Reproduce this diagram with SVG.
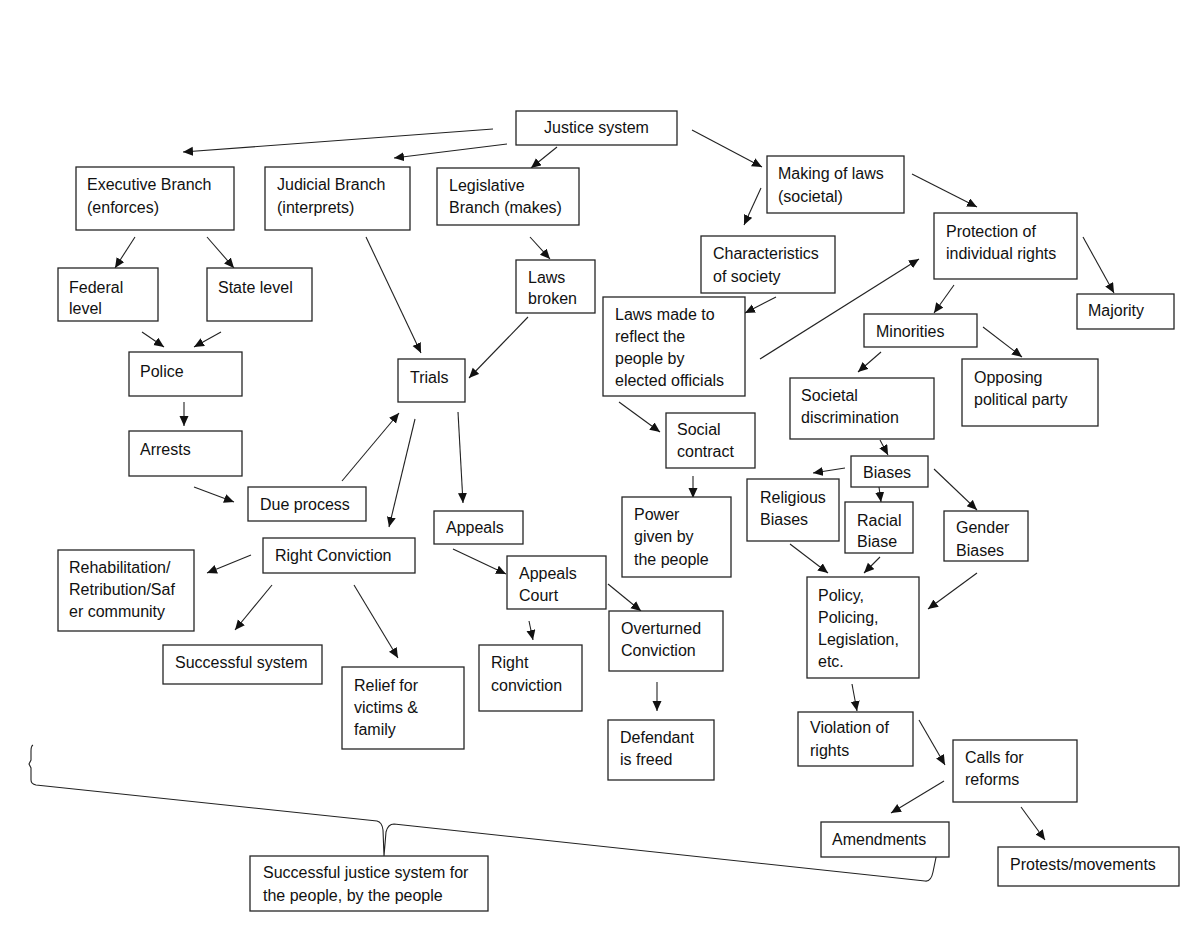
<svg xmlns="http://www.w3.org/2000/svg" width="1200" height="927" viewBox="0 0 1200 927">
<style>
rect.n{fill:#fff;stroke:#262626;stroke-width:1.3}
text{font-family:"Liberation Sans",Arial,sans-serif;font-size:16px;fill:#111}
#connectors line,#connectors path{stroke:#222;stroke-width:1.1;fill:none}
#connectors line{marker-end:url(#ah)}
</style>
<defs>
<marker id="ah" markerUnits="userSpaceOnUse" markerWidth="11" markerHeight="10" refX="10" refY="4.5" orient="auto">
<path d="M0,0 L10,4.5 L0,9 z" fill="#111"/>
</marker>
</defs>
<rect width="1200" height="927" fill="#fff"/>

<g id="connectors">
<line x1="493" y1="129" x2="183" y2="152"/>
<line x1="507" y1="144" x2="394" y2="158"/>
<line x1="557" y1="147" x2="531" y2="168"/>
<line x1="692" y1="130" x2="762" y2="167"/>
<line x1="135" y1="237" x2="115" y2="268"/>
<line x1="207" y1="237" x2="234" y2="268"/>
<line x1="142" y1="332" x2="164" y2="347"/>
<line x1="221" y1="332" x2="194" y2="347"/>
<line x1="366" y1="237" x2="421" y2="353"/>
<line x1="530" y1="237" x2="550" y2="259"/>
<line x1="528" y1="317" x2="469" y2="378"/>
<line x1="184" y1="402" x2="184" y2="426"/>
<line x1="194" y1="487" x2="234" y2="502"/>
<line x1="342" y1="481" x2="399" y2="413"/>
<line x1="415" y1="419" x2="389" y2="527"/>
<line x1="458" y1="412" x2="463" y2="503"/>
<line x1="251" y1="555" x2="207" y2="573"/>
<line x1="272" y1="585" x2="235" y2="630"/>
<line x1="354" y1="585" x2="398" y2="658"/>
<line x1="453" y1="549" x2="506" y2="574"/>
<line x1="608" y1="584" x2="641" y2="611"/>
<line x1="529" y1="621" x2="533" y2="640"/>
<line x1="657" y1="682" x2="657" y2="711"/>
<line x1="761" y1="188" x2="744" y2="225"/>
<line x1="776" y1="297" x2="745" y2="313"/>
<line x1="619" y1="402" x2="660" y2="432"/>
<line x1="693" y1="476" x2="693" y2="498"/>
<line x1="760" y1="359" x2="919" y2="259"/>
<line x1="912" y1="174" x2="977" y2="207"/>
<line x1="1083" y1="237" x2="1114" y2="293"/>
<line x1="954" y1="285" x2="934" y2="313"/>
<line x1="983" y1="327" x2="1022" y2="357"/>
<line x1="881" y1="352" x2="858" y2="372"/>
<line x1="880" y1="440" x2="888" y2="455"/>
<line x1="845" y1="468" x2="813" y2="473"/>
<line x1="879" y1="487" x2="881" y2="502"/>
<line x1="934" y1="469" x2="977" y2="510"/>
<line x1="790" y1="544" x2="828" y2="573"/>
<line x1="880" y1="557" x2="864" y2="573"/>
<line x1="977" y1="573" x2="928" y2="609"/>
<line x1="852" y1="684" x2="857" y2="711"/>
<line x1="919" y1="720" x2="945" y2="765"/>
<line x1="944" y1="781" x2="891" y2="813"/>
<line x1="1021" y1="807" x2="1045" y2="840"/>
<path d="M33,745 Q31,746 31,751 L31,760 L29,764 L31,768 L31,780 Q31,784 36,785 L377,821 Q382,822 383,830 L384,856 L386,832 Q388,824 394,824 L925,881 Q931,882 933,872 L939,843"/>
</g>

<g id="justice"><rect class="n" x="516" y="111" width="161" height="34"/><text x="544" y="133">Justice system</text></g>
<g id="executive"><rect class="n" x="76" y="167" width="158" height="63"/><text x="87" y="190">Executive Branch</text><text x="87" y="213">(enforces)</text></g>
<g id="judicial"><rect class="n" x="265" y="167" width="145" height="63"/><text x="277" y="190">Judicial Branch</text><text x="277" y="213">(interprets)</text></g>
<g id="legislative"><rect class="n" x="437" y="168" width="142" height="57"/><text x="449" y="191">Legislative</text><text x="449" y="213">Branch (makes)</text></g>
<g id="federal"><rect class="n" x="58" y="268" width="100" height="53"/><text x="69" y="293">Federal</text><text x="69" y="314">level</text></g>
<g id="state"><rect class="n" x="207" y="268" width="105" height="53"/><text x="218" y="293">State level</text></g>
<g id="police"><rect class="n" x="129" y="352" width="113" height="44"/><text x="140" y="377">Police</text></g>
<g id="arrests"><rect class="n" x="129" y="431" width="113" height="45"/><text x="140" y="455">Arrests</text></g>
<g id="due-process"><rect class="n" x="248" y="487" width="118" height="34"/><text x="260" y="510">Due process</text></g>
<g id="right-conviction"><rect class="n" x="263" y="538" width="152" height="35"/><text x="275" y="561">Right Conviction</text></g>
<g id="rehabilitation"><rect class="n" x="58" y="550" width="136" height="81"/><text x="69" y="573">Rehabilitation/</text><text x="69" y="595">Retribution/Saf</text><text x="69" y="617">er community</text></g>
<g id="successful-system"><rect class="n" x="163" y="645" width="159" height="39"/><text x="175" y="668">Successful system</text></g>
<g id="relief"><rect class="n" x="342" y="667" width="122" height="82"/><text x="354" y="691">Relief for</text><text x="354" y="713">victims &amp;</text><text x="354" y="735">family</text></g>
<g id="trials"><rect class="n" x="398" y="359" width="67" height="43"/><text x="410" y="383">Trials</text></g>
<g id="laws-broken"><rect class="n" x="516" y="260" width="79" height="53"/><text x="528" y="283">Laws</text><text x="528" y="304">broken</text></g>
<g id="appeals"><rect class="n" x="434" y="511" width="89" height="33"/><text x="446" y="533">Appeals</text></g>
<g id="appeals-court"><rect class="n" x="507" y="556" width="99" height="53"/><text x="519" y="579">Appeals</text><text x="519" y="601">Court</text></g>
<g id="right-conviction-2"><rect class="n" x="479" y="645" width="103" height="66"/><text x="491" y="668">Right</text><text x="491" y="691">conviction</text></g>
<g id="overturned"><rect class="n" x="609" y="611" width="114" height="60"/><text x="621" y="634">Overturned</text><text x="621" y="656">Conviction</text></g>
<g id="defendant"><rect class="n" x="608" y="720" width="106" height="60"/><text x="620" y="743">Defendant</text><text x="620" y="765">is freed</text></g>
<g id="making-of-laws"><rect class="n" x="767" y="156" width="137" height="57"/><text x="778" y="179">Making of laws</text><text x="778" y="202">(societal)</text></g>
<g id="characteristics"><rect class="n" x="701" y="236" width="134" height="57"/><text x="713" y="259">Characteristics</text><text x="713" y="282">of society</text></g>
<g id="laws-made"><rect class="n" x="603" y="297" width="142" height="99"/><text x="615" y="320">Laws made to</text><text x="615" y="342">reflect the</text><text x="615" y="364">people by</text><text x="615" y="386">elected officials</text></g>
<g id="social-contract"><rect class="n" x="666" y="413" width="89" height="55"/><text x="677" y="435">Social</text><text x="677" y="457">contract</text></g>
<g id="power"><rect class="n" x="622" y="497" width="109" height="80"/><text x="634" y="520">Power</text><text x="634" y="542">given by</text><text x="634" y="565">the people</text></g>
<g id="protection"><rect class="n" x="934" y="213" width="143" height="66"/><text x="946" y="237">Protection of</text><text x="946" y="259">individual rights</text></g>
<g id="majority"><rect class="n" x="1077" y="294" width="97" height="35"/><text x="1088" y="316">Majority</text></g>
<g id="minorities"><rect class="n" x="864" y="314" width="113" height="33"/><text x="876" y="337">Minorities</text></g>
<g id="opposing"><rect class="n" x="962" y="359" width="136" height="67"/><text x="974" y="383">Opposing</text><text x="974" y="405">political party</text></g>
<g id="societal"><rect class="n" x="790" y="378" width="144" height="61"/><text x="801" y="401">Societal</text><text x="801" y="423">discrimination</text></g>
<g id="biases"><rect class="n" x="851" y="456" width="77" height="31"/><text x="863" y="478">Biases</text></g>
<g id="religious"><rect class="n" x="747" y="479" width="92" height="62"/><text x="760" y="503">Religious</text><text x="760" y="525">Biases</text></g>
<g id="racial"><rect class="n" x="845" y="502" width="68" height="51"/><text x="857" y="526">Racial</text><text x="857" y="547">Biase</text></g>
<g id="gender"><rect class="n" x="944" y="511" width="84" height="50"/><text x="956" y="533">Gender</text><text x="956" y="556">Biases</text></g>
<g id="policy"><rect class="n" x="807" y="577" width="112" height="101"/><text x="818" y="601">Policy,</text><text x="818" y="623">Policing,</text><text x="818" y="645">Legislation,</text><text x="818" y="667">etc.</text></g>
<g id="violation"><rect class="n" x="798" y="712" width="115" height="54"/><text x="810" y="733">Violation of</text><text x="810" y="756">rights</text></g>
<g id="calls"><rect class="n" x="953" y="740" width="124" height="62"/><text x="965" y="763">Calls for</text><text x="965" y="785">reforms</text></g>
<g id="amendments"><rect class="n" x="821" y="822" width="128" height="35"/><text x="832" y="845">Amendments</text></g>
<g id="protests"><rect class="n" x="998" y="847" width="181" height="39"/><text x="1010" y="870">Protests/movements</text></g>
<g id="successful-justice"><rect class="n" x="250" y="856" width="238" height="55"/><text x="263" y="878">Successful justice system for</text><text x="263" y="901">the people, by the people</text></g>
</svg>
